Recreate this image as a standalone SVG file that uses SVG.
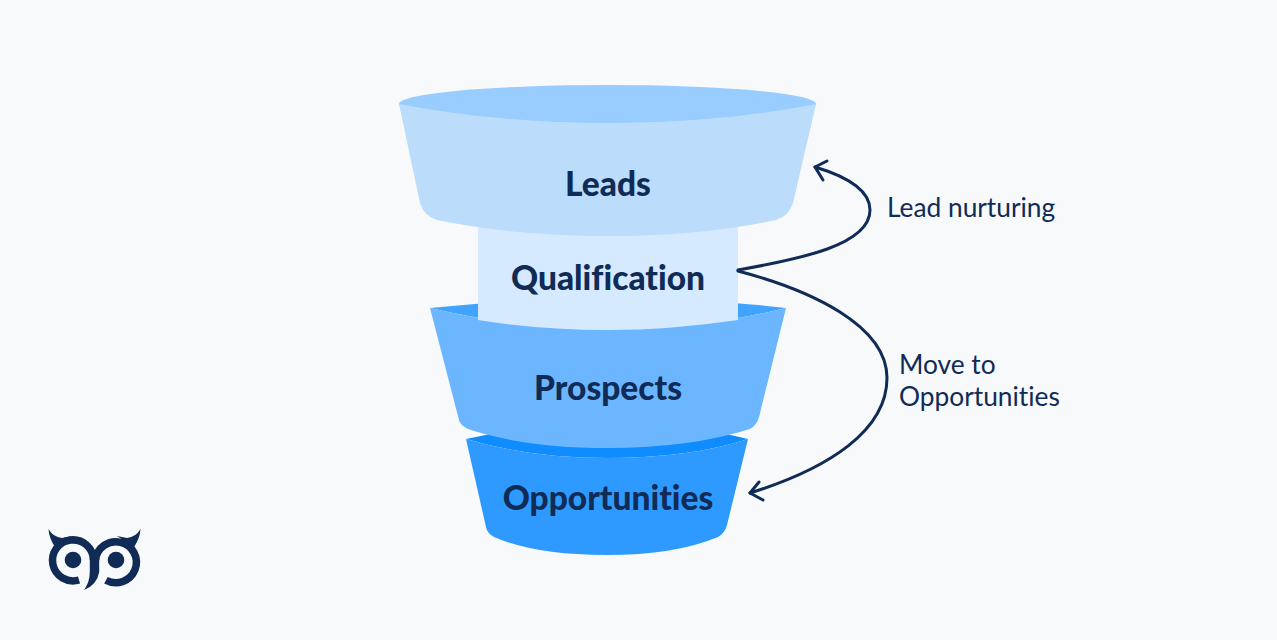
<svg xmlns="http://www.w3.org/2000/svg" width="1277" height="640" viewBox="0 0 1277 640">
<style>
.t{font-family:"Lato","Liberation Sans",sans-serif;fill:#0f2b56;text-anchor:middle;font-weight:900;font-size:33.500px;font-variant-ligatures:none}
.l{font-family:"Lato","Liberation Sans",sans-serif;fill:#0f2b56;font-size:26.300px;font-variant-ligatures:none}
.c{fill:none;stroke:#0f2b56;stroke-width:3;stroke-linecap:round;stroke-linejoin:round}
.d{fill:#0f2b56}
.r{fill:none;stroke:#0f2b56;stroke-width:7.500}
</style>
<rect width="1277" height="640" fill="#f7f9fb"/>
<g id="opportunities">
<path d="M466 439Q530 424 608 424Q690 424 748 439Q690 458 608 458Q530 458 466 439Z" fill="#0f8cff"/>
<path d="M466 439Q530 458 608 458Q690 458 748 439L727 525Q725 533 718 537Q675 555 606 555Q535 555 494 537Q487 533 486 527Z" fill="#2e9aff"/>
<text class="t" x="608" y="510">Opportunities</text>
</g>
<g id="prospects">
<path d="M430 308Q520 299 608 298Q700 298 786 308Q700 329 608 329Q520 329 430 308Z" fill="#40a4ff"/>
<path d="M430 308Q520 329 608 329Q700 329 786 308L759 417Q757 425 750 429Q690 448 608 448Q525 448 468 429Q460 425 459 420Z" fill="#6cb6ff"/>
<text class="t" x="608" y="400">Prospects</text>
</g>
<g id="qualification">
<path d="M478 225H738V320Q670 330 608 330Q540 330 478 320Z" fill="#d6eaff"/>
<text class="t" x="608" y="290">Qualification</text>
</g>
<g id="leads">
<ellipse cx="607.500" cy="104" rx="208.500" ry="19" fill="#99ccff"/>
<path d="M399 104Q500 123 607 123Q720 123 816 104L793 203Q789 216 776 220Q700 236 607 236Q515 236 437 220Q424 216 420 203Z" fill="#bbdcfb"/>
<text class="t" x="608" y="196">Leads</text>
</g>
<g id="connectors">
<path class="c" d="M738 270C800 259 870 245 870 210C870 190 845 176 815 167"/>
<path class="c" d="M827 161L815 167L823 180"/>
<path class="c" d="M738 271C810 290 887 325 887 378C887 430 830 468 750 493"/>
<path class="c" d="M759 482L750 493L763 500"/>
</g>
<g id="labels">
<text class="l" x="887" y="217">Lead nurturing</text>
<text class="l" x="899" y="374">Move to</text>
<text class="l" x="899" y="406">Opportunities</text>
</g>
<g id="logo">
<path class="r" d="M79 580A20.500 20.500 0 1 1 93.500 560"/>
<path class="r" d="M106 580.200A20.500 20.500 0 1 0 95.500 560"/>
<path class="d" d="M89.800 558H99.200V572Q97 585 84 590Q89.800 582 89.800 572Z"/>
<path class="d" d="M48.500 529Q53 537 62 538L72 536L55 547Q49 538 48.500 529Z"/>
<path class="d" d="M140.500 529Q136 537 127 538L117 536L134 547Q140 538 140.500 529Z"/>
<circle class="d" cx="73" cy="560" r="8.300"/>
<circle class="d" cx="116" cy="560" r="8.300"/>
</g>
</svg>
